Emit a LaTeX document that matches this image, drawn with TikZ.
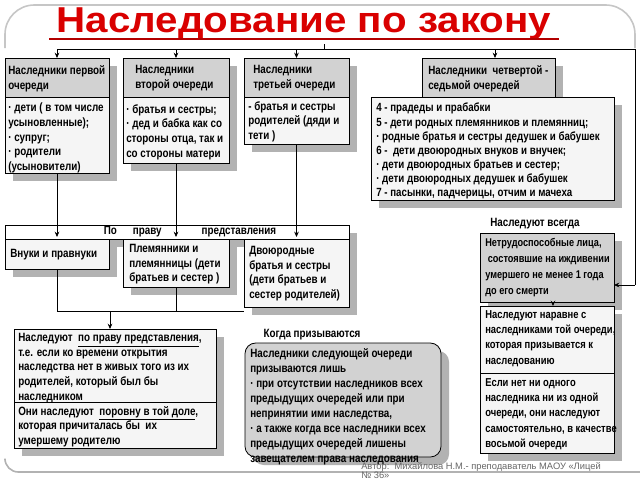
\documentclass[tikz,border=0pt]{standalone}
\usepackage{fontspec}
\setmainfont{Liberation Sans}
\newfontfamily\cond[FakeStretch=0.82]{Liberation Sans}
\newfontfamily\wide[FakeStretch=1.12]{Liberation Sans}
\usetikzlibrary{shadows,arrows.meta}
\begin{document}
\begin{tikzpicture}[x=0.75pt,y=-0.75pt,
  base/.style={draw=black,line width=0.6pt,anchor=north west,inner sep=0pt,outer sep=0pt,
     drop shadow={shadow xshift=6pt,shadow yshift=-6pt,fill=gray!60,opacity=1}},
  hdr/.style={base,fill=gray!35},
  bdy/.style={base,fill=gray!8},
  txt/.style={anchor=north west,align=left,inner sep=0pt,font=\cond\bfseries\fontsize{9}{10.2}\selectfont},
  lbl/.style={font=\cond\bfseries\fontsize{9}{10.2}\selectfont},
  con/.style={line width=0.6pt},
  arr/.style={con,-{Stealth[length=4pt,width=3.5pt]}}]
\useasboundingbox (0,0) rectangle (640,480);
\clip (0,0) rectangle (640,480);
% frame
\draw[gray!45,line width=1.2pt,rounded corners=22] (5,48) -- (5,5) -- (635,5) -- (635,48);
\draw[gray!60,line width=1.2pt,rounded corners=10] (5,460) -- (5,472) -- (640,472);
% title
\node[font=\wide\bfseries\fontsize{27}{27}\selectfont,text=red!85!black,inner sep=0pt,anchor=base] (title) at (304,32) {Наследование по закону};
\draw[red!70!black,line width=1.8pt] (49,39) -- (559,39);
% headers and bodies
\node[hdr,minimum width=78pt,minimum height=29.25pt] (h1) at (5,58) {};
\node[bdy,minimum width=78pt,minimum height=57pt] (b1) at (5,97) {};
\node[hdr,minimum width=79.5pt,minimum height=29.25pt] (h2) at (123,58) {};
\node[bdy,minimum width=79.5pt,minimum height=49.5pt] (b2) at (123,97) {};
\node[hdr,minimum width=78.75pt,minimum height=29.25pt] (h3) at (244,58) {};
\node[bdy,minimum width=78.75pt,minimum height=35.25pt] (b3) at (244,97) {};
\node[hdr,minimum width=99.75pt,minimum height=29.25pt] (h4) at (422,58) {};
\node[bdy,minimum width=182.25pt,minimum height=77.25pt] (b4) at (371,97) {};
\node[txt,font=\cond\bfseries\fontsize{9}{11.5}\selectfont] at (8,65) {Наследники первой\\очереди};
\node[txt,font=\cond\bfseries\fontsize{9}{11.5}\selectfont] at (135,65) {Наследники\\второй очереди};
\node[txt,font=\cond\bfseries\fontsize{9}{11.5}\selectfont] at (253,65) {Наследники\\третьей очереди};
\node[txt,font=\cond\bfseries\fontsize{9}{11.5}\selectfont] at (428,65) {Наследники\ \ четвертой -\\седьмой очередей};
\node[txt,font=\cond\bfseries\fontsize{9}{11}\selectfont] at (8,103) {· дети ( в том числе\\усыновленные);\\· супруг;\\· родители\\(усыновители)};
\node[txt,font=\cond\bfseries\fontsize{9}{11}\selectfont] at (126,104) {· братья и сестры;\\· дед и бабка как со\\стороны отца, так и\\со стороны матери};
\node[txt,font=\cond\bfseries\fontsize{9}{11}\selectfont] at (248,101) {- братья и сестры\\родителей (дяди и\\тети )};
\node[txt,font=\cond\bfseries\fontsize{8.9}{10.6}\selectfont] at (376,103) {4 - прадеды и прабабки\\5 - дети родных племянников и племянниц;\\· родные братья и сестры дедушек и бабушек\\6 -\ \ дети двоюродных внуков и внучек;\\· дети двоюродных братьев и сестер;\\· дети двоюродных дедушек и бабушек\\7 - пасынки, падчерицы, отчим и мачеха};
% band and lower
\node[base,fill=white,minimum width=258pt,minimum height=10.5pt,drop shadow={opacity=0}] (band) at (5,225) {};
\node[lbl,anchor=center] at (190,232) {По\hspace{12pt}праву\hspace{30pt}представления};
\node[bdy,minimum width=78pt,minimum height=22.5pt] (v1) at (5,239) {};
\node[bdy,minimum width=79.5pt,minimum height=36pt] (v2) at (123,239) {};
\node[bdy,minimum width=78.75pt,minimum height=51pt] (v3) at (244,239) {};
\node[txt] at (10,249) {Внуки и правнуки};
\node[txt,font=\cond\bfseries\fontsize{9}{11}\selectfont] at (129,244) {Племянники и\\племянницы (дети\\братьев и сестер )};
\node[txt,font=\cond\bfseries\fontsize{9}{11}\selectfont] at (249,246) {Двоюродные\\братья и сестры\\(дети братьев и\\сестер родителей)};
% bottom left
\node[bdy,minimum width=151.5pt,minimum height=54.75pt] (L1) at (14,329) {};
\node[bdy,minimum width=151.5pt,minimum height=34.5pt] (L2) at (14,402) {};
\node[txt,font=\cond\bfseries\fontsize{9}{11}\selectfont] at (18,333) {Наследуют \ \underline{по праву представления},\\т.е. если ко времени открытия\\наследства нет в живых того из их\\родителей, который был бы\\наследником};
\node[txt,font=\cond\bfseries\fontsize{9}{11}\selectfont] at (18,406) {Они наследуют \ \underline{поровну в той доле},\\которая причиталась бы\ \ их\\умершему родителю};
% middle rounded
\node[lbl] (when) at (312,335) {Когда призываются};
\node[base,fill=gray!35,rounded corners=8pt,minimum width=147pt,minimum height=85.5pt] (R) at (245,343) {};
\node[txt,font=\cond\bfseries\fontsize{9}{11.3}\selectfont] at (250,348) {Наследники следующей очереди\\призываются лишь\\· при отсутствии наследников всех\\предыдущих очередей или при\\непринятии ими наследства,\\· а также когда все наследники всех\\предыдущих очередей лишены\\завещателем права наследования};
% right
\node[lbl] (always) at (535,224) {Наследуют всегда};
\node[hdr,minimum width=100.5pt,minimum height=51.75pt] (N1) at (480,233) {};
\node[bdy,minimum width=100.5pt,minimum height=50.25pt] (N2) at (480,306) {};
\node[bdy,minimum width=100.5pt,minimum height=60pt] (N3) at (480,373) {};
\node[txt,font=\cond\bfseries\fontsize{8.4}{12}\selectfont] at (485,238) {Нетрудоспособные лица,\\\ состоявшие на иждивении\\умершего не менее 1 года\\до его смерти};
\node[txt,font=\cond\bfseries\fontsize{8.6}{11.5}\selectfont] at (485,310) {Наследуют наравне с\\наследниками той очереди,\\которая призывается к\\наследованию};
\node[txt,font=\cond\bfseries\fontsize{8.6}{11.5}\selectfont] at (485,378) {Если нет ни одного\\наследника ни из одной\\очереди, они наследуют\\самостоятельно, в качестве\\восьмой очереди};
% connectors
\coordinate (top) at (324,44);
\coordinate (bus) at (324,49);
\coordinate (corner) at (635,49);
\coordinate (rj) at (635,285);
\coordinate (m) at (110,311);
\draw[con] (top) -- (bus);
\draw[con] (h1.north |- bus) -- (corner) -- (rj);
\draw[arr] (rj) -- (rj -| N1.east);
\foreach \h in {h1,h2,h3} \draw[arr] (\h.north |- bus) -- (\h.north);
\draw[arr] (495,49) -- (495,58);
\draw[arr] (b1.south) -- (57,237);
\draw[arr] (b2.south) -- (176,237);
\draw[arr] (b3.south) -- (296.5,237);
\draw[con] (v1.south) |- (v3.west |- 0,311);
\draw[con] (v2.south) -- (v2.south |- m);
\draw[arr] (m) -- (m |- L1.north);
\draw[arr] (553,302) -- (553,306);
% author
\node[anchor=west,inner sep=0pt,font=\fontsize{7}{8}\selectfont,text=gray!80!black] (author) at (361,467) {Автор:\ \ Михайлова Н.М.- преподаватель МАОУ «Лицей};
\node[anchor=west,inner sep=0pt,font=\fontsize{7}{8}\selectfont,text=gray!80!black] (author2) at (361,475.5) {№ 36»};
\end{tikzpicture}
\end{document}
